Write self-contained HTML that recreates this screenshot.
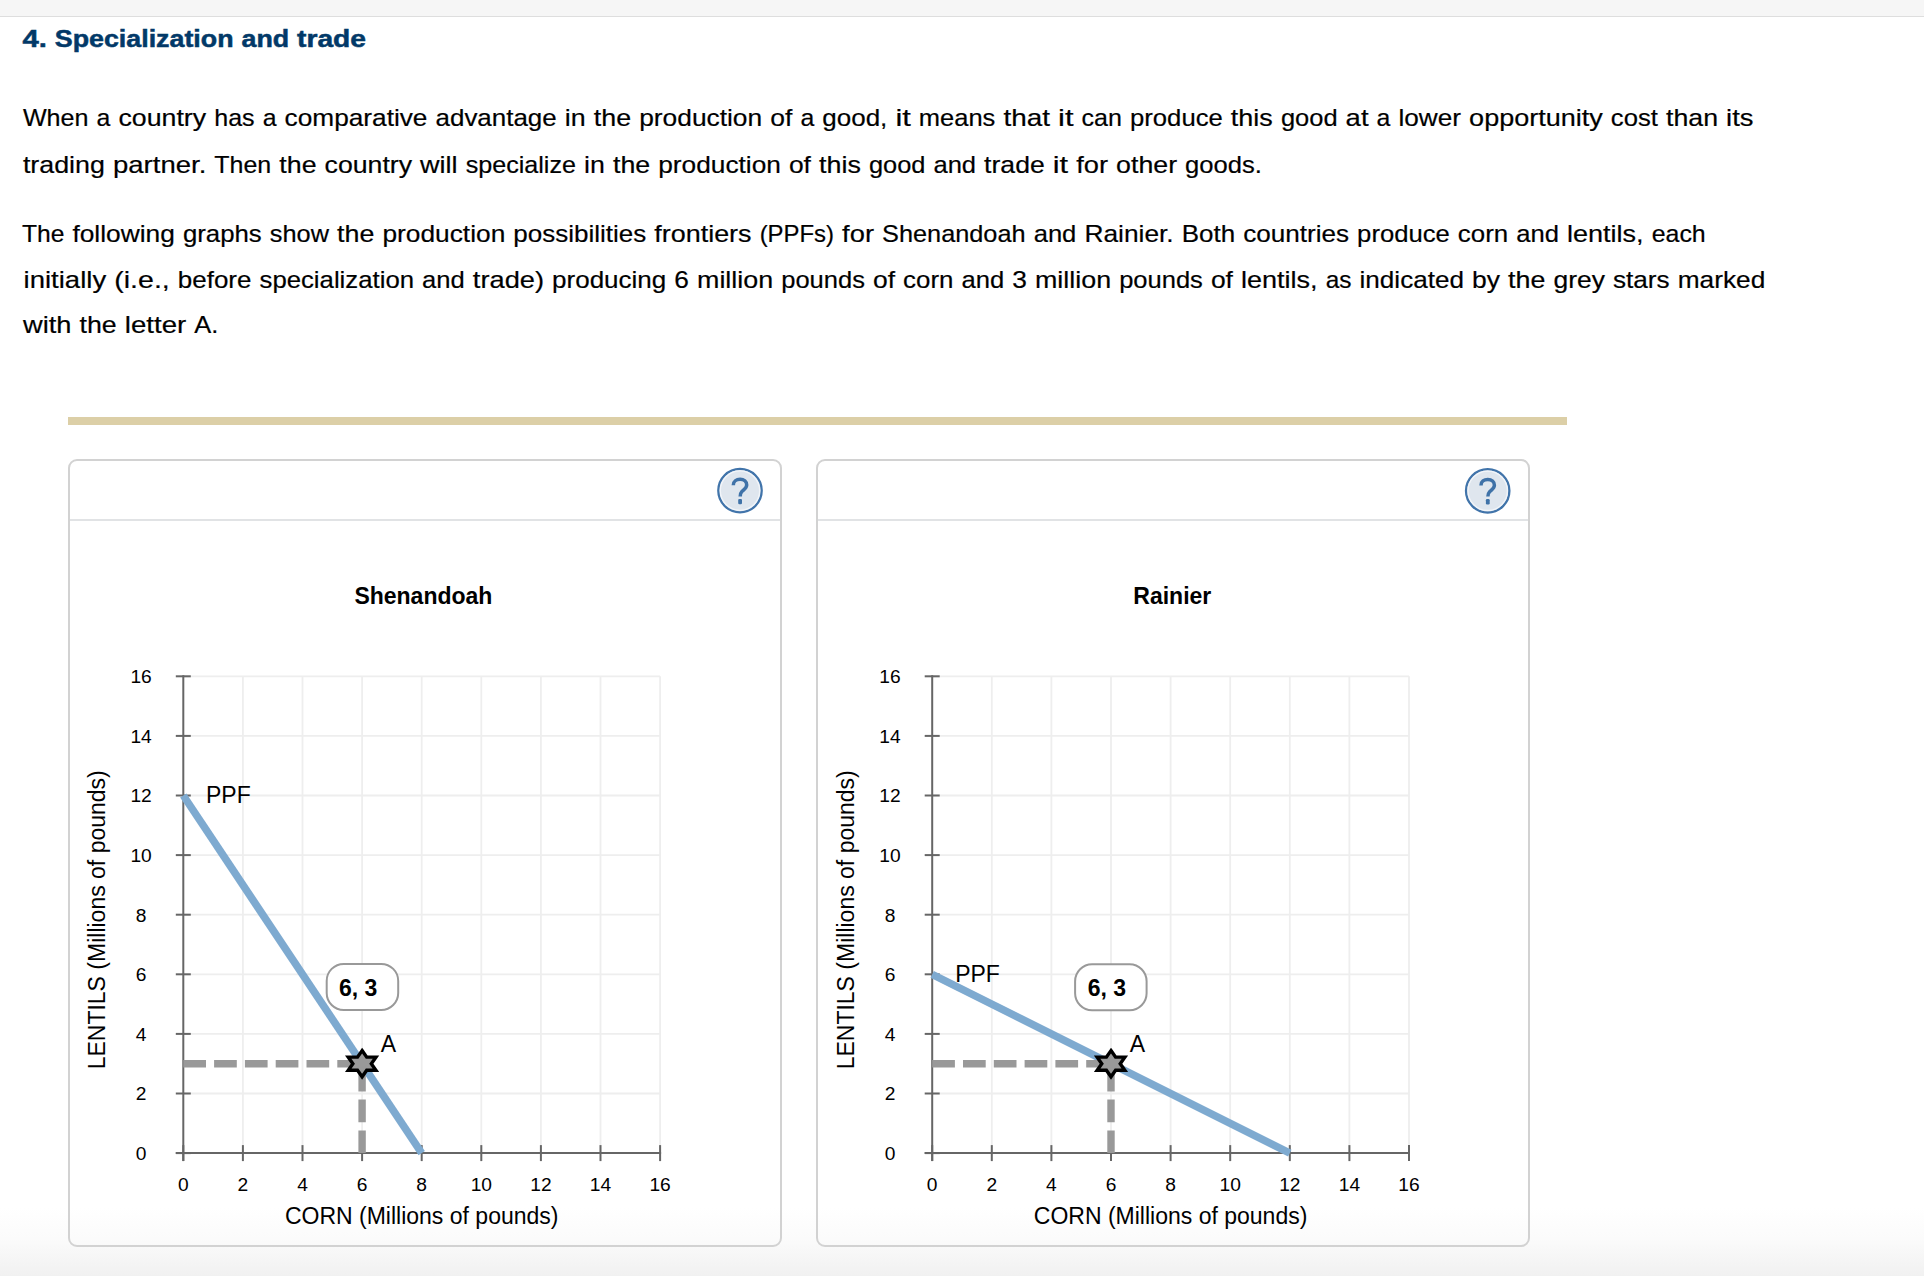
<!DOCTYPE html>
<html><head><meta charset="utf-8"><style>
html,body{margin:0;padding:0;}
body{width:1924px;height:1276px;position:relative;overflow:hidden;background:#fff;font-family:"Liberation Sans",sans-serif;}
.topbar{position:absolute;left:0;top:0;width:1924px;height:16px;background:#f6f6f6;border-bottom:1px solid #dedede;}
.botgrad{position:absolute;left:0;top:1208px;width:1924px;height:68px;background:linear-gradient(to bottom,#ffffff 0%,#fbfbfb 45%,#f1f1f1 100%);}
.tan{position:absolute;left:68px;top:417px;width:1499px;height:8px;background:#dccfa7;}
.panel{position:absolute;top:459px;width:710px;height:784px;border:2px solid #d2d2d2;border-radius:9px;background:transparent;}
.panel .hd{position:absolute;left:0;right:0;top:58px;height:2px;background:#e1e3e5;}
svg{position:absolute;left:0;top:0;}
.g{stroke:#eeeeee;stroke-width:1.8;}
.ax{stroke:#666;stroke-width:2;}
.tk{font-family:"Liberation Sans",sans-serif;font-size:19.2px;text-anchor:middle;fill:#000;}
.lb{font-family:"Liberation Sans",sans-serif;font-size:23px;fill:#000;}
.bt{font-family:"Liberation Sans",sans-serif;font-size:23px;font-weight:bold;fill:#000;}
.ct{font-family:"Liberation Sans",sans-serif;font-size:23px;font-weight:bold;text-anchor:middle;fill:#000;}
.at{font-family:"Liberation Sans",sans-serif;font-size:23px;text-anchor:middle;fill:#000;}
.ppf{stroke:#7eaad0;stroke-width:7.6;}
.ds{stroke:#999;stroke-width:7.4;stroke-dasharray:22.7 8.1;}
.st{fill:#999;stroke:#000;stroke-width:3.4;stroke-linejoin:miter;stroke-miterlimit:10;}
.bx{fill:#fff;stroke:#999;stroke-width:2;}
.body{font-family:"Liberation Sans",sans-serif;font-size:24px;fill:#000;stroke:#000;stroke-width:0.2px;}
.title{font-family:"Liberation Sans",sans-serif;font-size:24px;font-weight:bold;fill:#023968;stroke:#023968;stroke-width:0.5px;}
</style></head><body>
<div class="topbar"></div>
<div class="botgrad"></div>
<div class="tan"></div>
<div class="panel" style="left:68px"><div class="hd"></div></div>
<div class="panel" style="left:816px"><div class="hd"></div></div>
<svg width="1924" height="1276" viewBox="0 0 1924 1276">
<text x="22.50" y="46.8" class="title" textLength="24.39" lengthAdjust="spacingAndGlyphs">4.</text>
<text x="54.78" y="46.8" class="title" textLength="178.78" lengthAdjust="spacingAndGlyphs">Specialization</text>
<text x="241.50" y="46.8" class="title" textLength="47.68" lengthAdjust="spacingAndGlyphs">and</text>
<text x="297.07" y="46.8" class="title" textLength="68.95" lengthAdjust="spacingAndGlyphs">trade</text>
<text x="22.90" y="125.7" class="body" textLength="65.61" lengthAdjust="spacingAndGlyphs">When</text>
<text x="96.60" y="125.7" class="body" textLength="13.81" lengthAdjust="spacingAndGlyphs">a</text>
<text x="118.51" y="125.7" class="body" textLength="87.62" lengthAdjust="spacingAndGlyphs">country</text>
<text x="214.22" y="125.7" class="body" textLength="40.38" lengthAdjust="spacingAndGlyphs">has</text>
<text x="262.69" y="125.7" class="body" textLength="13.81" lengthAdjust="spacingAndGlyphs">a</text>
<text x="284.60" y="125.7" class="body" textLength="142.88" lengthAdjust="spacingAndGlyphs">comparative</text>
<text x="435.57" y="125.7" class="body" textLength="121.10" lengthAdjust="spacingAndGlyphs">advantage</text>
<text x="564.76" y="125.7" class="body" textLength="20.88" lengthAdjust="spacingAndGlyphs">in</text>
<text x="593.74" y="125.7" class="body" textLength="37.35" lengthAdjust="spacingAndGlyphs">the</text>
<text x="639.19" y="125.7" class="body" textLength="122.97" lengthAdjust="spacingAndGlyphs">production</text>
<text x="770.25" y="125.7" class="body" textLength="22.06" lengthAdjust="spacingAndGlyphs">of</text>
<text x="800.41" y="125.7" class="body" textLength="13.81" lengthAdjust="spacingAndGlyphs">a</text>
<text x="822.31" y="125.7" class="body" textLength="65.00" lengthAdjust="spacingAndGlyphs">good,</text>
<text x="895.41" y="125.7" class="body" textLength="15.39" lengthAdjust="spacingAndGlyphs">it</text>
<text x="918.89" y="125.7" class="body" textLength="76.48" lengthAdjust="spacingAndGlyphs">means</text>
<text x="1003.46" y="125.7" class="body" textLength="46.52" lengthAdjust="spacingAndGlyphs">that</text>
<text x="1058.08" y="125.7" class="body" textLength="15.39" lengthAdjust="spacingAndGlyphs">it</text>
<text x="1081.56" y="125.7" class="body" textLength="40.38" lengthAdjust="spacingAndGlyphs">can</text>
<text x="1130.03" y="125.7" class="body" textLength="92.76" lengthAdjust="spacingAndGlyphs">produce</text>
<text x="1230.88" y="125.7" class="body" textLength="41.95" lengthAdjust="spacingAndGlyphs">this</text>
<text x="1280.92" y="125.7" class="body" textLength="56.63" lengthAdjust="spacingAndGlyphs">good</text>
<text x="1345.64" y="125.7" class="body" textLength="22.89" lengthAdjust="spacingAndGlyphs">at</text>
<text x="1376.62" y="125.7" class="body" textLength="13.81" lengthAdjust="spacingAndGlyphs">a</text>
<text x="1398.53" y="125.7" class="body" textLength="62.50" lengthAdjust="spacingAndGlyphs">lower</text>
<text x="1469.12" y="125.7" class="body" textLength="133.67" lengthAdjust="spacingAndGlyphs">opportunity</text>
<text x="1610.88" y="125.7" class="body" textLength="47.03" lengthAdjust="spacingAndGlyphs">cost</text>
<text x="1666.01" y="125.7" class="body" textLength="52.02" lengthAdjust="spacingAndGlyphs">than</text>
<text x="1726.12" y="125.7" class="body" textLength="27.38" lengthAdjust="spacingAndGlyphs">its</text>
<text x="22.90" y="172.6" class="body" textLength="82.05" lengthAdjust="spacingAndGlyphs">trading</text>
<text x="113.02" y="172.6" class="body" textLength="93.26" lengthAdjust="spacingAndGlyphs">partner.</text>
<text x="214.35" y="172.6" class="body" textLength="56.89" lengthAdjust="spacingAndGlyphs">Then</text>
<text x="279.31" y="172.6" class="body" textLength="37.25" lengthAdjust="spacingAndGlyphs">the</text>
<text x="324.63" y="172.6" class="body" textLength="87.37" lengthAdjust="spacingAndGlyphs">country</text>
<text x="420.07" y="172.6" class="body" textLength="37.51" lengthAdjust="spacingAndGlyphs">will</text>
<text x="465.65" y="172.6" class="body" textLength="110.34" lengthAdjust="spacingAndGlyphs">specialize</text>
<text x="584.06" y="172.6" class="body" textLength="20.83" lengthAdjust="spacingAndGlyphs">in</text>
<text x="612.95" y="172.6" class="body" textLength="37.25" lengthAdjust="spacingAndGlyphs">the</text>
<text x="658.27" y="172.6" class="body" textLength="122.62" lengthAdjust="spacingAndGlyphs">production</text>
<text x="788.96" y="172.6" class="body" textLength="22.00" lengthAdjust="spacingAndGlyphs">of</text>
<text x="819.03" y="172.6" class="body" textLength="41.83" lengthAdjust="spacingAndGlyphs">this</text>
<text x="868.93" y="172.6" class="body" textLength="56.47" lengthAdjust="spacingAndGlyphs">good</text>
<text x="933.47" y="172.6" class="body" textLength="42.60" lengthAdjust="spacingAndGlyphs">and</text>
<text x="984.14" y="172.6" class="body" textLength="60.59" lengthAdjust="spacingAndGlyphs">trade</text>
<text x="1052.80" y="172.6" class="body" textLength="15.34" lengthAdjust="spacingAndGlyphs">it</text>
<text x="1076.22" y="172.6" class="body" textLength="31.80" lengthAdjust="spacingAndGlyphs">for</text>
<text x="1116.08" y="172.6" class="body" textLength="60.97" lengthAdjust="spacingAndGlyphs">other</text>
<text x="1185.13" y="172.6" class="body" textLength="76.78" lengthAdjust="spacingAndGlyphs">goods.</text>
<text x="21.90" y="242.1" class="body" textLength="42.44" lengthAdjust="spacingAndGlyphs">The</text>
<text x="72.42" y="242.1" class="body" textLength="102.45" lengthAdjust="spacingAndGlyphs">following</text>
<text x="182.96" y="242.1" class="body" textLength="78.79" lengthAdjust="spacingAndGlyphs">graphs</text>
<text x="269.84" y="242.1" class="body" textLength="59.14" lengthAdjust="spacingAndGlyphs">show</text>
<text x="337.06" y="242.1" class="body" textLength="37.31" lengthAdjust="spacingAndGlyphs">the</text>
<text x="382.45" y="242.1" class="body" textLength="122.83" lengthAdjust="spacingAndGlyphs">production</text>
<text x="513.36" y="242.1" class="body" textLength="132.86" lengthAdjust="spacingAndGlyphs">possibilities</text>
<text x="654.30" y="242.1" class="body" textLength="97.26" lengthAdjust="spacingAndGlyphs">frontiers</text>
<text x="759.65" y="242.1" class="body" textLength="74.40" lengthAdjust="spacingAndGlyphs">(PPFs)</text>
<text x="842.14" y="242.1" class="body" textLength="31.85" lengthAdjust="spacingAndGlyphs">for</text>
<text x="882.07" y="242.1" class="body" textLength="143.51" lengthAdjust="spacingAndGlyphs">Shenandoah</text>
<text x="1033.67" y="242.1" class="body" textLength="42.68" lengthAdjust="spacingAndGlyphs">and</text>
<text x="1084.43" y="242.1" class="body" textLength="89.21" lengthAdjust="spacingAndGlyphs">Rainier.</text>
<text x="1181.73" y="242.1" class="body" textLength="53.34" lengthAdjust="spacingAndGlyphs">Both</text>
<text x="1243.15" y="242.1" class="body" textLength="105.90" lengthAdjust="spacingAndGlyphs">countries</text>
<text x="1357.13" y="242.1" class="body" textLength="92.65" lengthAdjust="spacingAndGlyphs">produce</text>
<text x="1457.87" y="242.1" class="body" textLength="50.30" lengthAdjust="spacingAndGlyphs">corn</text>
<text x="1516.25" y="242.1" class="body" textLength="42.68" lengthAdjust="spacingAndGlyphs">and</text>
<text x="1567.01" y="242.1" class="body" textLength="76.58" lengthAdjust="spacingAndGlyphs">lentils,</text>
<text x="1651.68" y="242.1" class="body" textLength="54.03" lengthAdjust="spacingAndGlyphs">each</text>
<text x="23.60" y="287.8" class="body" textLength="82.57" lengthAdjust="spacingAndGlyphs">initially</text>
<text x="114.25" y="287.8" class="body" textLength="55.53" lengthAdjust="spacingAndGlyphs">(i.e.,</text>
<text x="177.87" y="287.8" class="body" textLength="73.58" lengthAdjust="spacingAndGlyphs">before</text>
<text x="259.53" y="287.8" class="body" textLength="154.50" lengthAdjust="spacingAndGlyphs">specialization</text>
<text x="422.12" y="287.8" class="body" textLength="42.68" lengthAdjust="spacingAndGlyphs">and</text>
<text x="472.88" y="287.8" class="body" textLength="71.13" lengthAdjust="spacingAndGlyphs">trade)</text>
<text x="552.09" y="287.8" class="body" textLength="114.14" lengthAdjust="spacingAndGlyphs">producing</text>
<text x="674.31" y="287.8" class="body" textLength="14.62" lengthAdjust="spacingAndGlyphs">6</text>
<text x="697.02" y="287.8" class="body" textLength="76.11" lengthAdjust="spacingAndGlyphs">million</text>
<text x="781.21" y="287.8" class="body" textLength="83.69" lengthAdjust="spacingAndGlyphs">pounds</text>
<text x="872.99" y="287.8" class="body" textLength="22.04" lengthAdjust="spacingAndGlyphs">of</text>
<text x="903.11" y="287.8" class="body" textLength="50.30" lengthAdjust="spacingAndGlyphs">corn</text>
<text x="961.50" y="287.8" class="body" textLength="42.68" lengthAdjust="spacingAndGlyphs">and</text>
<text x="1012.26" y="287.8" class="body" textLength="14.62" lengthAdjust="spacingAndGlyphs">3</text>
<text x="1034.96" y="287.8" class="body" textLength="76.11" lengthAdjust="spacingAndGlyphs">million</text>
<text x="1119.16" y="287.8" class="body" textLength="83.69" lengthAdjust="spacingAndGlyphs">pounds</text>
<text x="1210.93" y="287.8" class="body" textLength="22.04" lengthAdjust="spacingAndGlyphs">of</text>
<text x="1241.06" y="287.8" class="body" textLength="76.58" lengthAdjust="spacingAndGlyphs">lentils,</text>
<text x="1325.72" y="287.8" class="body" textLength="25.78" lengthAdjust="spacingAndGlyphs">as</text>
<text x="1359.59" y="287.8" class="body" textLength="104.36" lengthAdjust="spacingAndGlyphs">indicated</text>
<text x="1472.03" y="287.8" class="body" textLength="27.93" lengthAdjust="spacingAndGlyphs">by</text>
<text x="1508.05" y="287.8" class="body" textLength="37.31" lengthAdjust="spacingAndGlyphs">the</text>
<text x="1553.45" y="287.8" class="body" textLength="51.45" lengthAdjust="spacingAndGlyphs">grey</text>
<text x="1612.98" y="287.8" class="body" textLength="56.63" lengthAdjust="spacingAndGlyphs">stars</text>
<text x="1677.69" y="287.8" class="body" textLength="87.61" lengthAdjust="spacingAndGlyphs">marked</text>
<text x="23.00" y="333.3" class="body" textLength="48.44" lengthAdjust="spacingAndGlyphs">with</text>
<text x="79.50" y="333.3" class="body" textLength="37.21" lengthAdjust="spacingAndGlyphs">the</text>
<text x="124.77" y="333.3" class="body" textLength="61.47" lengthAdjust="spacingAndGlyphs">letter</text>
<text x="194.30" y="333.3" class="body" textLength="24.03" lengthAdjust="spacingAndGlyphs">A.</text>
<g transform="translate(740,490.6)">
<circle r="21.7" fill="#dfe6ee" stroke="#4174aa" stroke-width="2.3"/>
<circle r="19.7" fill="none" stroke="#f2f5f9" stroke-width="1.3"/>
<path d="M -6.7,-5.4 C -6.7,-9.3 -3.6,-11.3 0.1,-11.3 C 4,-11.3 6.7,-8.9 6.7,-5.6 C 6.7,-2.3 3.6,-0.9 1.8,1.1 C 0.5,2.5 0.2,3.8 0.2,5.8" fill="none" stroke="#3f72a8" stroke-width="3.5"/>
<rect x="-1.8" y="8.3" width="3.8" height="5.3" rx="1.2" fill="#3f72a8"/>
</g>
<g transform="translate(1487.7,490.8)">
<circle r="21.7" fill="#dfe6ee" stroke="#4174aa" stroke-width="2.3"/>
<circle r="19.7" fill="none" stroke="#f2f5f9" stroke-width="1.3"/>
<path d="M -6.7,-5.4 C -6.7,-9.3 -3.6,-11.3 0.1,-11.3 C 4,-11.3 6.7,-8.9 6.7,-5.6 C 6.7,-2.3 3.6,-0.9 1.8,1.1 C 0.5,2.5 0.2,3.8 0.2,5.8" fill="none" stroke="#3f72a8" stroke-width="3.5"/>
<rect x="-1.8" y="8.3" width="3.8" height="5.3" rx="1.2" fill="#3f72a8"/>
</g>
<line x1="242.9" y1="1153.1" x2="242.9" y2="676.3" class="g"/>
<line x1="183.3" y1="1093.5" x2="660.1" y2="1093.5" class="g"/>
<line x1="302.5" y1="1153.1" x2="302.5" y2="676.3" class="g"/>
<line x1="183.3" y1="1033.9" x2="660.1" y2="1033.9" class="g"/>
<line x1="362.1" y1="1153.1" x2="362.1" y2="676.3" class="g"/>
<line x1="183.3" y1="974.3" x2="660.1" y2="974.3" class="g"/>
<line x1="421.7" y1="1153.1" x2="421.7" y2="676.3" class="g"/>
<line x1="183.3" y1="914.7" x2="660.1" y2="914.7" class="g"/>
<line x1="481.3" y1="1153.1" x2="481.3" y2="676.3" class="g"/>
<line x1="183.3" y1="855.1" x2="660.1" y2="855.1" class="g"/>
<line x1="540.9" y1="1153.1" x2="540.9" y2="676.3" class="g"/>
<line x1="183.3" y1="795.5" x2="660.1" y2="795.5" class="g"/>
<line x1="600.5" y1="1153.1" x2="600.5" y2="676.3" class="g"/>
<line x1="183.3" y1="735.9" x2="660.1" y2="735.9" class="g"/>
<line x1="660.1" y1="1153.1" x2="660.1" y2="676.3" class="g"/>
<line x1="183.3" y1="676.3" x2="660.1" y2="676.3" class="g"/>
<line x1="175.8" y1="1153.1" x2="661.1" y2="1153.1" class="ax"/>
<line x1="183.3" y1="1161.1" x2="183.3" y2="675.3" class="ax"/>
<line x1="183.3" y1="1145.1" x2="183.3" y2="1161.1" class="ax"/>
<line x1="175.8" y1="1153.1" x2="190.8" y2="1153.1" class="ax"/>
<text x="183.3" y="1190.8" class="tk">0</text>
<text x="141.1" y="1159.9" class="tk">0</text>
<line x1="242.9" y1="1145.1" x2="242.9" y2="1161.1" class="ax"/>
<line x1="175.8" y1="1093.5" x2="190.8" y2="1093.5" class="ax"/>
<text x="242.9" y="1190.8" class="tk">2</text>
<text x="141.1" y="1100.3" class="tk">2</text>
<line x1="302.5" y1="1145.1" x2="302.5" y2="1161.1" class="ax"/>
<line x1="175.8" y1="1033.9" x2="190.8" y2="1033.9" class="ax"/>
<text x="302.5" y="1190.8" class="tk">4</text>
<text x="141.1" y="1040.7" class="tk">4</text>
<line x1="362.1" y1="1145.1" x2="362.1" y2="1161.1" class="ax"/>
<line x1="175.8" y1="974.3" x2="190.8" y2="974.3" class="ax"/>
<text x="362.1" y="1190.8" class="tk">6</text>
<text x="141.1" y="981.1" class="tk">6</text>
<line x1="421.7" y1="1145.1" x2="421.7" y2="1161.1" class="ax"/>
<line x1="175.8" y1="914.7" x2="190.8" y2="914.7" class="ax"/>
<text x="421.7" y="1190.8" class="tk">8</text>
<text x="141.1" y="921.5" class="tk">8</text>
<line x1="481.3" y1="1145.1" x2="481.3" y2="1161.1" class="ax"/>
<line x1="175.8" y1="855.1" x2="190.8" y2="855.1" class="ax"/>
<text x="481.3" y="1190.8" class="tk">10</text>
<text x="141.1" y="861.9" class="tk">10</text>
<line x1="540.9" y1="1145.1" x2="540.9" y2="1161.1" class="ax"/>
<line x1="175.8" y1="795.5" x2="190.8" y2="795.5" class="ax"/>
<text x="540.9" y="1190.8" class="tk">12</text>
<text x="141.1" y="802.3" class="tk">12</text>
<line x1="600.5" y1="1145.1" x2="600.5" y2="1161.1" class="ax"/>
<line x1="175.8" y1="735.9" x2="190.8" y2="735.9" class="ax"/>
<text x="600.5" y="1190.8" class="tk">14</text>
<text x="141.1" y="742.7" class="tk">14</text>
<line x1="660.1" y1="1145.1" x2="660.1" y2="1161.1" class="ax"/>
<line x1="175.8" y1="676.3" x2="190.8" y2="676.3" class="ax"/>
<text x="660.1" y="1190.8" class="tk">16</text>
<text x="141.1" y="683.1" class="tk">16</text>
<line x1="183.3" y1="795.5" x2="421.7" y2="1153.1" class="ppf"/>
<line x1="183.3" y1="1063.7" x2="362.1" y2="1063.7" class="ds"/>
<line x1="362.1" y1="1153.1" x2="362.1" y2="1063.7" class="ds"/>
<polygon points="362.10,1050.60 366.71,1057.15 375.94,1057.15 371.33,1063.70 375.94,1070.25 366.71,1070.25 362.10,1076.80 357.49,1070.25 348.26,1070.25 352.87,1063.70 348.26,1057.15 357.49,1057.15" class="st"/>
<text x="206.0" y="802.5" class="lb">PPF</text>
<text x="380.8" y="1051.9" class="lb">A</text>
<rect x="326.7" y="963.9" width="71.5" height="46" rx="17" ry="17" class="bx"/>
<text x="338.9" y="995.5" class="bt">6, 3</text>
<text x="423.4" y="604" class="ct">Shenandoah</text>
<text x="421.7" y="1223.9" class="at">CORN (Millions of pounds)</text>
<text transform="translate(105.0,919.8) rotate(-90)" x="0" y="0" class="at">LENTILS (Millions of pounds)</text>
<line x1="991.8" y1="1153.1" x2="991.8" y2="676.3" class="g"/>
<line x1="932.2" y1="1093.5" x2="1409.0" y2="1093.5" class="g"/>
<line x1="1051.4" y1="1153.1" x2="1051.4" y2="676.3" class="g"/>
<line x1="932.2" y1="1033.9" x2="1409.0" y2="1033.9" class="g"/>
<line x1="1111.0" y1="1153.1" x2="1111.0" y2="676.3" class="g"/>
<line x1="932.2" y1="974.3" x2="1409.0" y2="974.3" class="g"/>
<line x1="1170.6" y1="1153.1" x2="1170.6" y2="676.3" class="g"/>
<line x1="932.2" y1="914.7" x2="1409.0" y2="914.7" class="g"/>
<line x1="1230.2" y1="1153.1" x2="1230.2" y2="676.3" class="g"/>
<line x1="932.2" y1="855.1" x2="1409.0" y2="855.1" class="g"/>
<line x1="1289.8" y1="1153.1" x2="1289.8" y2="676.3" class="g"/>
<line x1="932.2" y1="795.5" x2="1409.0" y2="795.5" class="g"/>
<line x1="1349.4" y1="1153.1" x2="1349.4" y2="676.3" class="g"/>
<line x1="932.2" y1="735.9" x2="1409.0" y2="735.9" class="g"/>
<line x1="1409.0" y1="1153.1" x2="1409.0" y2="676.3" class="g"/>
<line x1="932.2" y1="676.3" x2="1409.0" y2="676.3" class="g"/>
<line x1="924.7" y1="1153.1" x2="1410.0" y2="1153.1" class="ax"/>
<line x1="932.2" y1="1161.1" x2="932.2" y2="675.3" class="ax"/>
<line x1="932.2" y1="1145.1" x2="932.2" y2="1161.1" class="ax"/>
<line x1="924.7" y1="1153.1" x2="939.7" y2="1153.1" class="ax"/>
<text x="932.2" y="1190.8" class="tk">0</text>
<text x="890.0" y="1159.9" class="tk">0</text>
<line x1="991.8" y1="1145.1" x2="991.8" y2="1161.1" class="ax"/>
<line x1="924.7" y1="1093.5" x2="939.7" y2="1093.5" class="ax"/>
<text x="991.8" y="1190.8" class="tk">2</text>
<text x="890.0" y="1100.3" class="tk">2</text>
<line x1="1051.4" y1="1145.1" x2="1051.4" y2="1161.1" class="ax"/>
<line x1="924.7" y1="1033.9" x2="939.7" y2="1033.9" class="ax"/>
<text x="1051.4" y="1190.8" class="tk">4</text>
<text x="890.0" y="1040.7" class="tk">4</text>
<line x1="1111.0" y1="1145.1" x2="1111.0" y2="1161.1" class="ax"/>
<line x1="924.7" y1="974.3" x2="939.7" y2="974.3" class="ax"/>
<text x="1111.0" y="1190.8" class="tk">6</text>
<text x="890.0" y="981.1" class="tk">6</text>
<line x1="1170.6" y1="1145.1" x2="1170.6" y2="1161.1" class="ax"/>
<line x1="924.7" y1="914.7" x2="939.7" y2="914.7" class="ax"/>
<text x="1170.6" y="1190.8" class="tk">8</text>
<text x="890.0" y="921.5" class="tk">8</text>
<line x1="1230.2" y1="1145.1" x2="1230.2" y2="1161.1" class="ax"/>
<line x1="924.7" y1="855.1" x2="939.7" y2="855.1" class="ax"/>
<text x="1230.2" y="1190.8" class="tk">10</text>
<text x="890.0" y="861.9" class="tk">10</text>
<line x1="1289.8" y1="1145.1" x2="1289.8" y2="1161.1" class="ax"/>
<line x1="924.7" y1="795.5" x2="939.7" y2="795.5" class="ax"/>
<text x="1289.8" y="1190.8" class="tk">12</text>
<text x="890.0" y="802.3" class="tk">12</text>
<line x1="1349.4" y1="1145.1" x2="1349.4" y2="1161.1" class="ax"/>
<line x1="924.7" y1="735.9" x2="939.7" y2="735.9" class="ax"/>
<text x="1349.4" y="1190.8" class="tk">14</text>
<text x="890.0" y="742.7" class="tk">14</text>
<line x1="1409.0" y1="1145.1" x2="1409.0" y2="1161.1" class="ax"/>
<line x1="924.7" y1="676.3" x2="939.7" y2="676.3" class="ax"/>
<text x="1409.0" y="1190.8" class="tk">16</text>
<text x="890.0" y="683.1" class="tk">16</text>
<line x1="932.2" y1="974.3" x2="1289.8" y2="1153.1" class="ppf"/>
<line x1="932.2" y1="1063.7" x2="1111.0" y2="1063.7" class="ds"/>
<line x1="1111.0" y1="1153.1" x2="1111.0" y2="1063.7" class="ds"/>
<polygon points="1111.00,1050.60 1115.61,1057.15 1124.84,1057.15 1120.23,1063.70 1124.84,1070.25 1115.61,1070.25 1111.00,1076.80 1106.39,1070.25 1097.16,1070.25 1101.77,1063.70 1097.16,1057.15 1106.39,1057.15" class="st"/>
<text x="955.2" y="981.9" class="lb">PPF</text>
<text x="1129.8" y="1052.4" class="lb">A</text>
<rect x="1075.1" y="964.2" width="71.5" height="46" rx="17" ry="17" class="bx"/>
<text x="1087.8" y="995.8" class="bt">6, 3</text>
<text x="1172.3" y="604" class="ct">Rainier</text>
<text x="1170.6" y="1223.9" class="at">CORN (Millions of pounds)</text>
<text transform="translate(853.9,919.8) rotate(-90)" x="0" y="0" class="at">LENTILS (Millions of pounds)</text>
</svg>
</body></html>
